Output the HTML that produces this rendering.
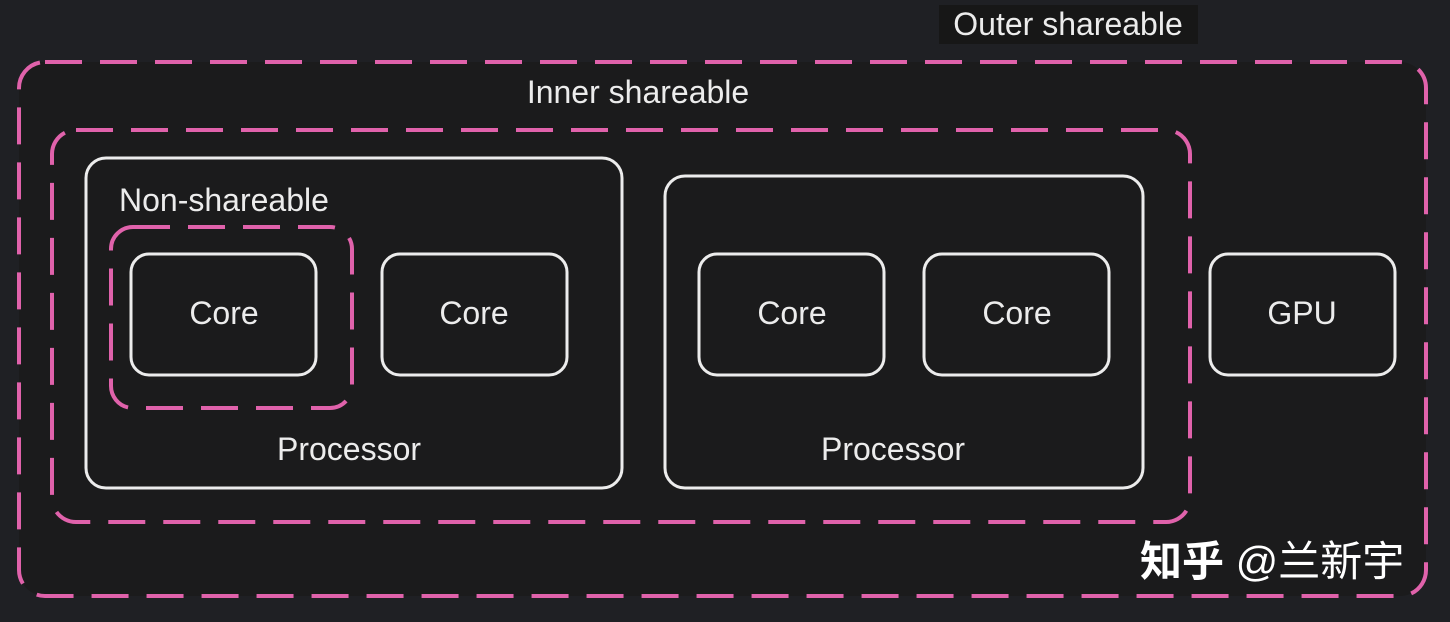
<!DOCTYPE html>
<html><head><meta charset="utf-8"><style>
html,body{margin:0;padding:0;background:#1f2024;width:1450px;height:622px;overflow:hidden}
text{font-family:"Liberation Sans","Noto Sans CJK SC",sans-serif;fill:#ececec}
</style></head><body>
<svg width="1450" height="622" viewBox="0 0 1450 622" xmlns="http://www.w3.org/2000/svg">
<rect x="0" y="0" width="1450" height="622" fill="#1f2024"/>
<rect x="939" y="5" width="259" height="39" fill="#171717"/>
<text x="1068" y="35" font-size="32" text-anchor="middle">Outer shareable</text>
<rect x="19" y="62" width="1407" height="534" rx="26" fill="#1b1b1c" stroke="#e062ab" stroke-width="4" stroke-dasharray="37 18"/>
<text x="638" y="103" font-size="32" text-anchor="middle">Inner shareable</text>
<rect x="52" y="130" width="1138" height="392" rx="24" fill="none" stroke="#e062ab" stroke-width="4" stroke-dasharray="37 18"/>
<rect x="86" y="158" width="536" height="330" rx="20" fill="none" stroke="#ececec" stroke-width="3"/>
<rect x="665" y="176" width="478" height="312" rx="20" fill="none" stroke="#ececec" stroke-width="3"/>
<text x="119" y="211" font-size="32">Non-shareable</text>
<rect x="111" y="227" width="241" height="181" rx="22" fill="none" stroke="#e062ab" stroke-width="4" stroke-dasharray="37 18"/>
<g fill="none" stroke="#ececec" stroke-width="3">
<rect x="131" y="254" width="185" height="121" rx="18"/>
<rect x="382" y="254" width="185" height="121" rx="18"/>
<rect x="699" y="254" width="185" height="121" rx="18"/>
<rect x="924" y="254" width="185" height="121" rx="18"/>
<rect x="1210" y="254" width="185" height="121" rx="18"/>
</g>
<g font-size="32" text-anchor="middle">
<text x="224" y="324">Core</text>
<text x="474" y="324">Core</text>
<text x="792" y="324">Core</text>
<text x="1017" y="324">Core</text>
<text x="1302" y="324">GPU</text>
<text x="349" y="460">Processor</text>
<text x="893" y="460">Processor</text>
</g>
<text x="1140" y="576" font-size="42" style="fill:#fff;font-weight:bold">知乎 <tspan style="font-weight:normal">@兰新宇</tspan></text>
</svg>
</body></html>
